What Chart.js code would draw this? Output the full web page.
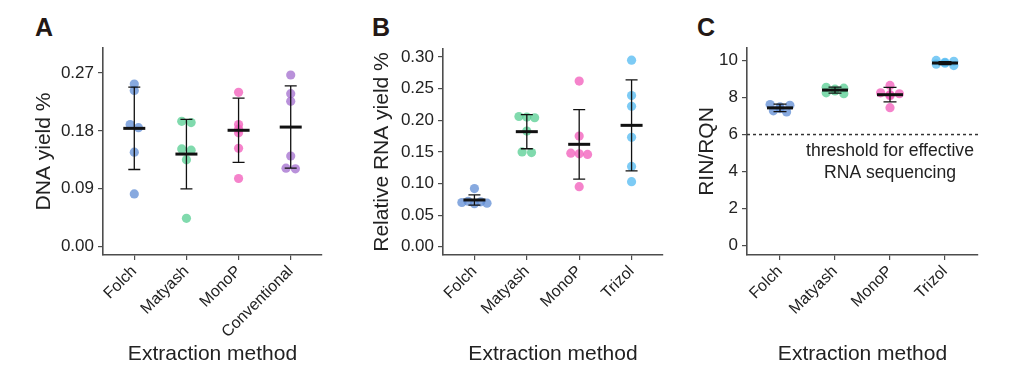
<!DOCTYPE html>
<html>
<head>
<meta charset="utf-8">
<script src="https://cdn.jsdelivr.net/npm/chart.js@4.4.1/dist/chart.umd.min.js"></script>
<style>
  body { margin: 0; background: #fff; width: 1024px; height: 387px; position: relative; overflow: hidden;
         font-family: 'Liberation Sans', Arial, sans-serif; }
  canvas { position: absolute; top: 0; }
  .tag { position: absolute; top: 15px; font-weight: bold; font-size: 25px; line-height: 25px; color: #231815; }
</style>
</head>
<body>
<div class="tag" style="left:35px">A</div>
<div class="tag" style="left:372px">B</div>
<div class="tag" style="left:697px">C</div>
<canvas id="chartA" width="345" height="387" style="left:0px"></canvas>
<canvas id="chartB" width="340" height="387" style="left:345px"></canvas>
<canvas id="chartC" width="339" height="387" style="left:685px"></canvas>
<script>
// Categories
const methodsA = ['Folch', 'Matyash', 'MonoP', 'Conventional'];
const methodsBC = ['Folch', 'Matyash', 'MonoP', 'Trizol'];

// Panel A - DNA yield %
const dnaFolch = [0.253, 0.243, 0.190, 0.185, 0.147, 0.082];
const dnaMatyash = [0.195, 0.193, 0.152, 0.150, 0.135, 0.044];
const dnaMonoP = [0.240, 0.190, 0.183, 0.177, 0.153, 0.106];
const dnaConventional = [0.267, 0.238, 0.226, 0.141, 0.122, 0.121];
const dnaMean = [0.184, 0.144, 0.181, 0.186];
const dnaSd = [0.064, 0.054, 0.050, 0.064];
const dnaTicks = [0, 0.09, 0.18, 0.27];

// Panel B - relative RNA yield %
const rnaFolch = [0.092, 0.072, 0.071, 0.070, 0.069, 0.068];
const rnaMatyash = [0.206, 0.205, 0.204, 0.183, 0.150, 0.149];
const rnaMonoP = [0.262, 0.175, 0.148, 0.147, 0.146, 0.095];
const rnaTrizol = [0.295, 0.239, 0.222, 0.173, 0.127, 0.103];
const rnaMean = [0.074, 0.182, 0.162, 0.192];
const rnaSd = [0.008, 0.027, 0.055, 0.072];
const rnaTicks = [0, 0.05, 0.10, 0.15, 0.20, 0.25, 0.30];

// Panel C - RIN/RQN
const rinFolch = [7.62, 7.58, 7.50, 7.40, 7.28, 7.22];
const rinMatyash = [8.55, 8.50, 8.45, 8.35, 8.25, 8.20];
const rinMonoP = [8.65, 8.25, 8.20, 8.15, 8.10, 7.45];
const rinTrizol = [10.0, 9.95, 9.90, 9.85, 9.80, 9.72];
const rinMean = [7.44, 8.40, 8.15, 9.86];
const rinSd = [0.20, 0.16, 0.39, 0.08];
const rinTicks = [0, 2, 4, 6, 8, 10];
const rinThreshold = 6;

// horizontal jitter of the dots (category units)
const jitterA = [[0, 0, -0.08, 0.08, 0, 0], [-0.09, 0.09, -0.09, 0.09, 0, 0], [0, 0, 0, 0, 0, 0], [0, 0, 0, 0, -0.09, 0.09]];
const jitterB = [[0, -0.12, 0.12, -0.24, 0.24, 0], [-0.15, 0, 0.15, 0, -0.09, 0.09], [0, 0, -0.16, 0, 0.16, 0], [0, 0, 0, 0, 0, 0]];
const jitterC = [[-0.18, 0.18, 0, 0, -0.12, 0.12], [-0.16, 0.16, 0, 0, -0.16, 0.16], [0, -0.17, 0.17, 0, 0, 0], [-0.16, 0.16, 0, 0, -0.16, 0.16]];

const BLUE = 'rgba(95,140,212,0.75)';
const GREEN = 'rgba(85,206,146,0.75)';
const PINK = 'rgba(241,90,186,0.75)';
const PURPLE = 'rgba(161,108,206,0.75)';
const CYAN = 'rgba(81,186,241,0.75)';

const FONT = "'Liberation Sans', Arial, sans-serif";
const AXIS = '#4d4d4d';
const PAD_BOTTOM = 16;
const AXIS_Y = 255;
Chart.defaults.font.family = FONT;
Chart.defaults.color = '#222';

// mean bar + SD whiskers, plus optional threshold line
const meanSdPlugin = {
    id: 'meanSd',
    afterDatasetsDraw(chart, args, o) {
        const { ctx, chartArea, scales: { x, y } } = chart;
        ctx.save();
        if (o.threshold !== undefined) {
            const ty = y.getPixelForValue(o.threshold);
            ctx.strokeStyle = '#333';
            ctx.lineWidth = 1.5;
            ctx.setLineDash([3, 3]);
            ctx.beginPath();
            ctx.moveTo(chartArea.left, ty);
            ctx.lineTo(chartArea.right, ty);
            ctx.stroke();
            ctx.setLineDash([]);
            ctx.fillStyle = '#222';
            ctx.font = '17.6px ' + FONT;
            ctx.textAlign = 'center';
            ctx.textBaseline = 'middle';
            o.note.forEach((line, k) => {
                ctx.fillText(line, x.getPixelForValue(o.noteX), y.getPixelForValue(o.noteY[k]));
            });
        }
        ctx.strokeStyle = '#111';
        o.means.forEach((m, i) => {
            const px = x.getPixelForValue(i);
            const top = y.getPixelForValue(m + o.sds[i]);
            const bot = y.getPixelForValue(m - o.sds[i]);
            const mid = y.getPixelForValue(m);
            ctx.lineWidth = 1.3;
            ctx.beginPath();
            ctx.moveTo(px, top); ctx.lineTo(px, bot);
            ctx.moveTo(px - o.capHalf, top); ctx.lineTo(px + o.capHalf, top);
            ctx.moveTo(px - o.capHalf, bot); ctx.lineTo(px + o.capHalf, bot);
            ctx.stroke();
            ctx.lineWidth = 3;
            ctx.beginPath();
            ctx.moveTo(px - o.meanHalf, mid); ctx.lineTo(px + o.meanHalf, mid);
            ctx.stroke();
        });
        ctx.restore();
    }
};

function buildPanel(id, p) {
    const datasets = p.groups.map((vals, i) => ({
        data: vals.map((v, j) => ({ x: i + p.jitter[i][j], y: v })),
        backgroundColor: p.colors[i],
        borderWidth: 0,
        pointRadius: 4.6
    }));
    return new Chart(document.getElementById(id), {
        type: 'scatter',
        data: { datasets },
        options: {
            responsive: false,
            animation: false,
            events: [],
            layout: { padding: { left: p.padLeft, right: p.padRight, top: p.padTop, bottom: PAD_BOTTOM } },
            plugins: {
                legend: { display: false },
                tooltip: { enabled: false },
                meanSd: p.stats
            },
            scales: {
                x: {
                    type: 'linear', min: -0.6, max: 3.6,
                    afterBuildTicks: s => { s.ticks = p.categories.map((c, i) => ({ value: i })); },
                    afterFit: s => { s.height = 387 - PAD_BOTTOM - AXIS_Y; },
                    ticks: {
                        callback: v => p.categories[v],
                        minRotation: 45, maxRotation: 45, autoSkip: false,
                        font: { size: 16 }, padding: 2, color: '#222'
                    },
                    grid: { drawOnChartArea: false, tickLength: 5, color: AXIS, lineWidth: 1.2 },
                    border: { color: AXIS, width: 1.6 },
                    title: { display: true, text: 'Extraction method', font: { size: 21 }, padding: { top: 4, bottom: 4 }, color: '#222' }
                },
                y: {
                    min: p.yMin, max: p.yMax,
                    afterBuildTicks: s => { s.ticks = p.yTicks.map(v => ({ value: v })); },
                    afterFit: s => { s.width = p.yWidth; },
                    ticks: { callback: p.yFormat, font: { size: 17 }, padding: 4, color: '#222' },
                    grid: { drawOnChartArea: false, tickLength: 5, color: AXIS, lineWidth: 1.2 },
                    border: { color: AXIS, width: 1.6 },
                    title: { display: true, text: p.yTitle, font: { size: 21 }, padding: { top: 4, bottom: 4 }, color: '#222' }
                }
            }
        },
        plugins: [meanSdPlugin]
    });
}

buildPanel('chartA', {
    categories: methodsA,
    groups: [dnaFolch, dnaMatyash, dnaMonoP, dnaConventional],
    jitter: jitterA,
    colors: [BLUE, GREEN, PINK, PURPLE],
    yMin: -0.013, yMax: 0.309, yTicks: dnaTicks, yFormat: v => v.toFixed(2),
    yTitle: 'DNA yield %',
    padLeft: 28, yWidth: 75, padRight: 23, padTop: 48,
    stats: { means: dnaMean, sds: dnaSd, capHalf: 6, meanHalf: 11 }
});

buildPanel('chartB', {
    categories: methodsBC,
    groups: [rnaFolch, rnaMatyash, rnaMonoP, rnaTrizol],
    jitter: jitterB,
    colors: [BLUE, GREEN, PINK, CYAN],
    yMin: -0.013, yMax: 0.3127, yTicks: rnaTicks, yFormat: v => v.toFixed(2),
    yTitle: 'Relative RNA yield %',
    padLeft: 21, yWidth: 77, padRight: 22, padTop: 49,
    stats: { means: rnaMean, sds: rnaSd, capHalf: 6, meanHalf: 11 }
});

buildPanel('chartC', {
    categories: methodsBC,
    groups: [rinFolch, rinMatyash, rinMonoP, rinTrizol],
    jitter: jitterC,
    colors: [BLUE, GREEN, PINK, CYAN],
    yMin: -0.5, yMax: 10.67, yTicks: rinTicks, yFormat: v => String(v),
    yTitle: 'RIN/RQN',
    padLeft: 6, yWidth: 56, padRight: 46, padTop: 48,
    stats: {
        means: rinMean, sds: rinSd, capHalf: 6.5, meanHalf: 13,
        threshold: rinThreshold,
        note: ['threshold for effective', 'RNA sequencing'],
        noteX: 2.0, noteY: [5.08, 3.91]
    }
});
</script>
</body>
</html>
